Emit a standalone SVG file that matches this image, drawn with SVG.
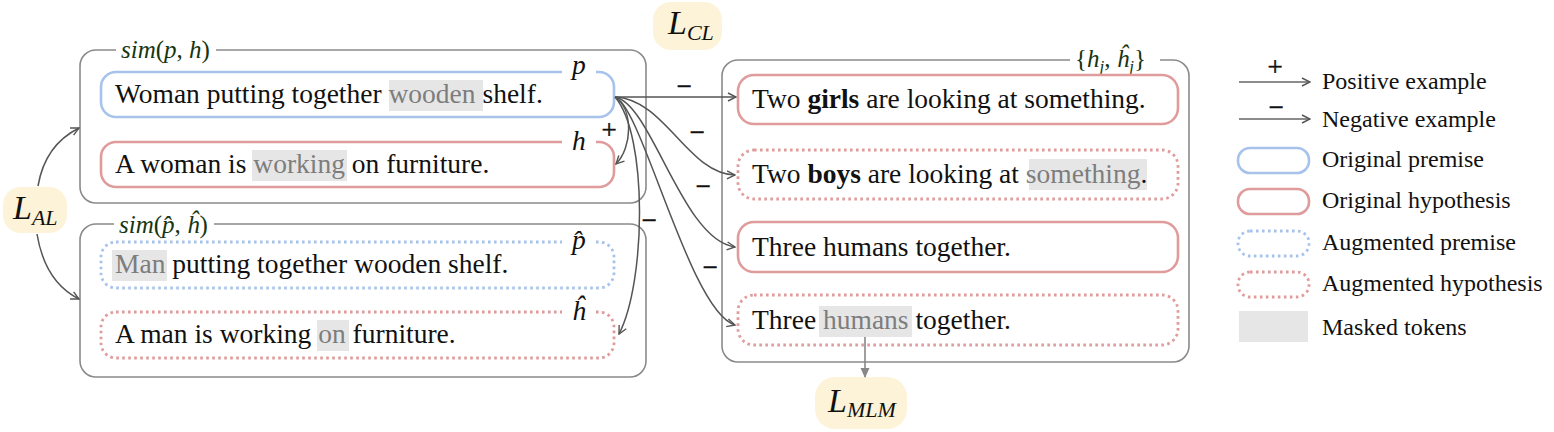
<svg xmlns="http://www.w3.org/2000/svg" width="1554" height="432" viewBox="0 0 1554 432">
<style>
text{font-family:"Liberation Serif","Times New Roman",serif;fill:#111}
.t{font-size:27.5px}
.lg{font-size:24px}
.it{font-style:italic}
.mk{fill:#7d7d7d}
.mask{fill:#e6e6e6}
.grp{fill:#fff;stroke:#8a8a8a;stroke-width:1.6}
.bs{fill:#fff;stroke:#a7c3ec;stroke-width:2.6}
.rs{fill:#fff;stroke:#e09c9c;stroke-width:2.6}
.bd{fill:#fff;stroke:#a7c3ec;stroke-width:2.8;stroke-dasharray:2.6 3.4}
.rd{fill:#fff;stroke:#e09c9c;stroke-width:2.8;stroke-dasharray:2.6 3.4}
.loss{fill:#fcf3d8}
.lab{font-size:25px;fill:#163510}
.sym{font-size:27px;text-anchor:middle;dominant-baseline:central;stroke:#111;stroke-width:0.5}
.arr{fill:none;stroke:#555;stroke-width:1.5;marker-end:url(#chev)}
.lgarr{fill:none;stroke:#666;stroke-width:1.5;marker-end:url(#chev)}
.mlm{fill:none;stroke:#888;stroke-width:1.6;marker-end:url(#tri)}
.bg{fill:#fff}
</style>
<defs>
<marker id="chev" viewBox="0 0 10 10" refX="9" refY="5" markerWidth="10" markerHeight="10" markerUnits="userSpaceOnUse" orient="auto">
<path d="M1,1 L9,5 L1,9" fill="none" stroke="#555" stroke-width="1.4"/>
</marker>
<marker id="tri" viewBox="0 0 10 10" refX="9" refY="5" markerWidth="10" markerHeight="10" markerUnits="userSpaceOnUse" orient="auto">
<path d="M0,0.5 L10,5 L0,9.5 Z" fill="#888"/>
</marker>
</defs>

<!-- Left top group -->
<g id="group-orig">
<rect class="grp" x="80" y="50" width="566" height="153" rx="16"/>
<rect class="bg" x="116" y="41" width="100" height="20"/>
<text class="lab" x="121" y="58"><tspan class="it">sim</tspan>(<tspan class="it">p</tspan>, <tspan class="it">h</tspan>)</text>
</g>
<g id="premise">
<rect class="bs" x="101" y="72" width="513" height="45" rx="15"/>
<rect class="bg" x="562" y="66" width="34" height="12"/>
<text class="t it" x="572" y="74">p</text>
<rect class="mask" x="389" y="80" width="94" height="31"/>
<text class="t" x="115" y="103">Woman putting together <tspan class="mk">wooden</tspan> shelf.</text>
</g>
<g id="hypothesis">
<rect class="rs" x="101" y="142" width="513" height="45" rx="15"/>
<rect class="bg" x="562" y="136" width="34" height="12"/>
<text class="t it" x="572" y="150">h</text>
<rect class="mask" x="252" y="150" width="95" height="31"/>
<text class="t" x="115" y="173">A woman is <tspan class="mk">working</tspan> on furniture.</text>
</g>

<!-- Left bottom group -->
<g id="group-aug">
<rect class="grp" x="80" y="224" width="566" height="153" rx="16"/>
<rect class="bg" x="114" y="210" width="100" height="24"/>
<text class="lab" x="119" y="233"><tspan class="it">sim</tspan>(<tspan class="it">p̂</tspan>, <tspan class="it">ĥ</tspan>)</text>
</g>
<g id="aug-premise">
<rect class="bd" x="101" y="242" width="513" height="46" rx="15"/>
<rect class="bg" x="562" y="236" width="34" height="12"/>
<text class="t it" x="572" y="249">p̂</text>
<rect class="mask" x="112" y="250" width="55" height="31"/>
<text class="t" x="115" y="273"><tspan class="mk">Man</tspan> putting together wooden shelf.</text>
</g>
<g id="aug-hypothesis">
<rect class="rd" x="101" y="312" width="513" height="46" rx="15"/>
<rect class="bg" x="562" y="306" width="34" height="12"/>
<text class="t it" x="572" y="320">ĥ</text>
<rect class="mask" x="317" y="320" width="32" height="31"/>
<text class="t" x="115" y="343">A man is working <tspan class="mk">on</tspan> furniture.</text>
</g>

<!-- Right group -->
<g id="group-neg">
<rect class="grp" x="722" y="60" width="467" height="302" rx="16"/>
<rect class="bg" x="1070" y="47" width="90" height="24"/>
<text class="lab" x="1075" y="67">{<tspan class="it">h</tspan><tspan class="it" font-size="17" dy="5">j</tspan><tspan dy="-5">, </tspan><tspan class="it">ĥ</tspan><tspan class="it" font-size="17" dy="5">j</tspan><tspan dy="-5">}</tspan></text>
</g>
<g id="neg1">
<rect class="rs" x="738" y="75" width="440" height="49" rx="16"/>
<text class="t" x="752" y="108">Two <tspan font-weight="bold">girls</tspan> are looking at something.</text>
</g>
<g id="neg2">
<rect class="rd" x="738" y="150" width="440" height="49" rx="16"/>
<rect class="mask" x="1029" y="159" width="118" height="31"/>
<text class="t" x="752" y="183">Two <tspan font-weight="bold">boys</tspan> are looking at <tspan class="mk">something</tspan>.</text>
</g>
<g id="neg3">
<rect class="rs" x="738" y="222" width="440" height="50" rx="16"/>
<text class="t" x="752" y="256">Three humans together.</text>
</g>
<g id="neg4">
<rect class="rd" x="738" y="295" width="440" height="50" rx="16"/>
<rect class="mask" x="819" y="306" width="93" height="31"/>
<text class="t" x="752" y="329">Three <tspan class="mk">humans</tspan> together.</text>
</g>

<!-- Loss nodes -->
<g id="loss-al">
<rect class="loss" x="3" y="187" width="64" height="46" rx="18"/>
<text class="it" x="13" y="219" font-size="34">L<tspan font-size="22" dy="6">AL</tspan></text>
</g>
<g id="loss-cl">
<rect class="loss" x="653" y="2" width="69" height="48" rx="18"/>
<text class="it" x="668" y="34" font-size="34">L<tspan font-size="22" dy="6">CL</tspan></text>
</g>
<g id="loss-mlm">
<rect class="loss" x="815" y="377" width="92" height="52" rx="20"/>
<text class="it" x="828" y="412" font-size="34">L<tspan font-size="22" dy="5">MLM</tspan></text>
</g>

<!-- Connectors -->
<g id="connectors">
<path class="arr" d="M38,186 Q45,145 79,128"/>
<path class="arr" d="M37,234 Q45,282 79,299"/>
<path class="arr" d="M615,97 L736,97"/>
<path class="arr" d="M615,97 C665,99 688,174 735,175"/>
<path class="arr" d="M615,97 C652,104 682,240 735,247"/>
<path class="arr" d="M615,97 C642,106 690,312 735,325"/>
<path class="arr" d="M615,97 C634,110 632,148 616,164"/>
<path class="arr" d="M615,97 C648,135 646,282 619,334"/>
<path class="mlm" d="M865,337 L865,377"/>
<text class="sym" x="684" y="86">−</text>
<text class="sym" x="697" y="132">−</text>
<text class="sym" x="703" y="186">−</text>
<text class="sym" x="710" y="267">−</text>
<text class="sym" x="649" y="220">−</text>
<text class="sym" x="609" y="130">+</text>
</g>

<!-- Legend -->
<g id="legend">
<path class="lgarr" d="M1239,82 L1310,82"/>
<text class="sym" x="1275" y="67">+</text>
<text class="lg" x="1322" y="89">Positive example</text>
<path class="lgarr" d="M1239,119 L1310,119"/>
<text class="sym" x="1276" y="107">−</text>
<text class="lg" x="1322" y="127">Negative example</text>
<rect class="bs" x="1238" y="148" width="71" height="25" rx="12"/>
<text class="lg" x="1322" y="167">Original premise</text>
<rect class="rs" x="1238" y="189" width="71" height="25" rx="12"/>
<text class="lg" x="1322" y="208">Original hypothesis</text>
<rect class="bd" x="1238" y="231" width="71" height="25" rx="12"/>
<text class="lg" x="1322" y="250">Augmented premise</text>
<rect class="rd" x="1238" y="272" width="71" height="25" rx="12"/>
<text class="lg" x="1322" y="291">Augmented hypothesis</text>
<rect class="mask" x="1239" y="311" width="69" height="31"/>
<text class="lg" x="1322" y="335">Masked tokens</text>
</g>
</svg>
